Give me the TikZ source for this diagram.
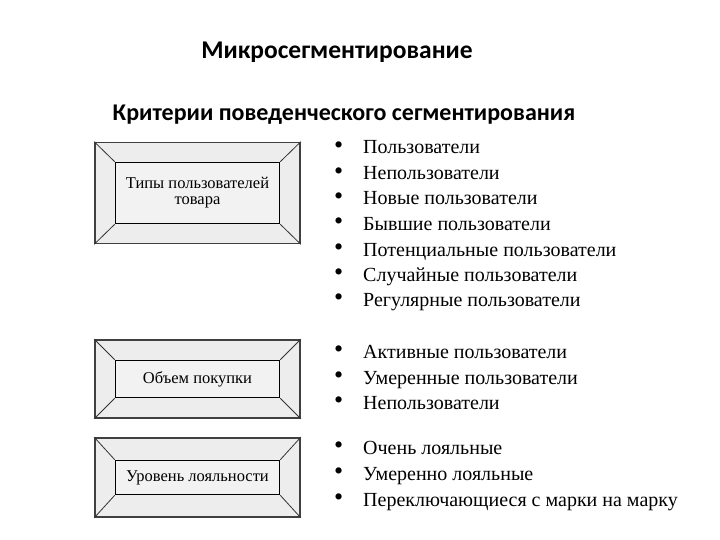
\documentclass[tikz,border=0pt]{standalone}
\usepackage{fontspec}
\setmainfont{Liberation Serif}
\newfontfamily\titlefont{Carlito}
\usetikzlibrary{positioning}

\begin{document}
\begin{tikzpicture}[x=1pt, y=-1pt]
\useasboundingbox (0,0) rectangle (720,540);
\tikzset{
  frame/.style={rectangle, draw=black!75, line width=1.6pt, fill=black!7, inner sep=0pt},
  face/.style={rectangle, draw=black, line width=1.6pt, fill=black!5, inner sep=0pt, align=center, font=\fontsize{16.5}{18}\selectfont},
  bevel/.style={draw=black!80, line width=0.8pt},
  listitem/.style={anchor=base west, inner sep=0pt, font=\fontsize{20}{20}\selectfont},
  heading/.style={font=\titlefont\bfseries\fontsize{25.5}{25.5}\selectfont}
}
\newcommand{\dotitem}{\makebox[29pt][l]{\raisebox{0.5pt}{\scalebox{1.3}{•}}}}

% Titles
\node (micro) [heading] at (337,52) {Микросегментирование};
\node (criteria) [heading, font=\titlefont\bfseries\fontsize{24}{24}\selectfont] at (344,115)
    {Критерии поведенческого сегментирования};

% Framed criteria boxes
\node (typesframe) [frame, minimum width=205, minimum height=101] at (197.5,193) {};
\node (types) [face, minimum width=164, minimum height=61] at (197.5,193)
    {Типы пользователей\\[-2pt]товара};
\node (volumeframe) [frame, minimum width=205, minimum height=78] at (197.5,379) {};
\node (volume) [face, minimum width=164, minimum height=37] at (197.5,379) {Объем покупки};
\node (loyalframe) [frame, minimum width=205, minimum height=79] at (197.5,477.5) {};
\node (loyal) [face, minimum width=164, minimum height=34] at (197.5,477.5) {Уровень лояльности};

% Bevel corners
\foreach \b in {types, volume, loyal}
  \foreach \c in {north west, north east, south west, south east}
    \draw [bevel] (\b frame.\c) -- (\b.\c);

% First list
\node (users1) [listitem] at (334,154) {\dotitem Пользователи};
\node (users2) [listitem] at (334,180) {\dotitem Непользователи};
\node (users3) [listitem] at (334,205) {\dotitem Новые пользователи};
\node (users4) [listitem] at (334,230) {\dotitem Бывшие пользователи};
\node (users5) [listitem] at (334,256) {\dotitem Потенциальные пользователи};
\node (users6) [listitem] at (334,281) {\dotitem Случайные пользователи};
\node (users7) [listitem] at (334,306) {\dotitem Регулярные пользователи};

% Second list
\node (vol1) [listitem] at (334,358) {\dotitem Активные пользователи};
\node (vol2) [listitem] at (334,384) {\dotitem Умеренные пользователи};
\node (vol3) [listitem] at (334,409) {\dotitem Непользователи};

% Third list
\node (loy1) [listitem] at (334,454) {\dotitem Очень лояльные};
\node (loy2) [listitem] at (334,480) {\dotitem Умеренно лояльные};
\node (loy3) [listitem] at (334,506) {\dotitem Переключающиеся с марки на марку};
\end{tikzpicture}
\end{document}
